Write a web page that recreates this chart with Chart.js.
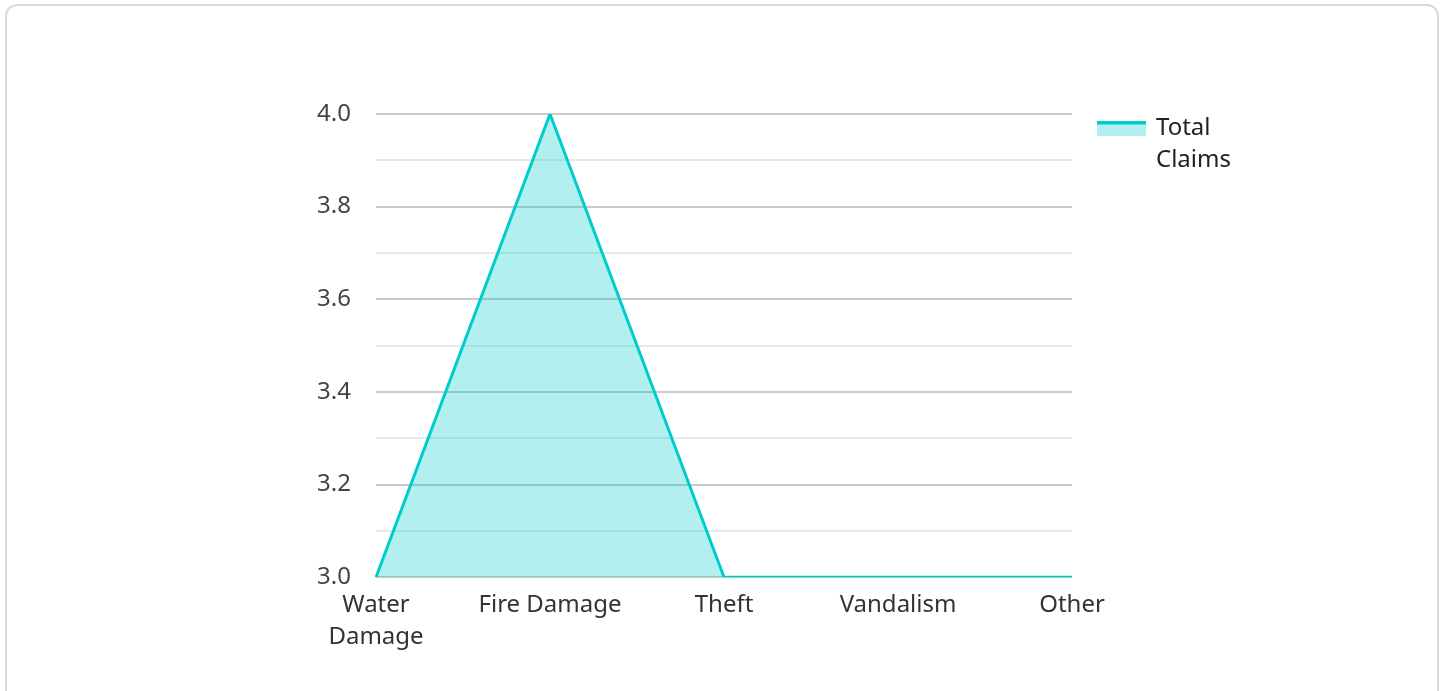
<!DOCTYPE html>
<html>
<head>
<meta charset="utf-8">
<script src="https://cdn.jsdelivr.net/npm/chart.js@4"></script>
<style>
  html, body { margin: 0; padding: 0; background: #ffffff; overflow: hidden; }
  #card { position: absolute; left: 5px; top: 4px; width: 1434px; height: 700px; border: 2px solid #d9d9d9; border-radius: 12px; box-sizing: border-box; background: #fff; }
  #wrap { position: absolute; left: 0; top: 0; width: 1445px; height: 691px; }
</style>
</head>
<body>
<div id="card"></div>
<div id="wrap"><canvas id="c" width="1445" height="691"></canvas></div>
<script>
const categories = ['Water Damage', 'Fire Damage', 'Theft', 'Vandalism', 'Other'];
const xTickLabels = [['Water', 'Damage'], 'Fire Damage', 'Theft', 'Vandalism', 'Other'];
const totalClaims = [3.0, 4.0, 3.0, 3.0, 3.0];
const seriesName = ['Total', 'Claims'];
const yMin = 3.0, yMax = 4.0, yStep = 0.1;

const lineColor = 'rgb(0,204,204)';
const fillColor = 'rgba(0,204,204,0.3)';

// legend swatch
const sw = document.createElement('canvas');
sw.width = 49; sw.height = 15;
(function(){
  const g = sw.getContext('2d');
  g.fillStyle = fillColor; g.fillRect(0, 0, 49, 15);
  g.fillStyle = lineColor; g.fillRect(0, 0, 49, 4);
})();

const FONT = "'Noto Sans', sans-serif";

const legendPlace = {
  id: 'legendPlace',
  afterLayout(chart) {
    const lg = chart.legend;
    if (!lg) return;
    const w = lg.width, h = lg.height;
    lg.left = 1088; lg.right = lg.left + w;
    lg.top = 106; lg.bottom = lg.top + h;
  }
};

new Chart(document.getElementById('c'), {
  type: 'line',
  data: {
    labels: categories,
    datasets: [{
      label: seriesName,
      data: totalClaims,
      borderColor: lineColor,
      backgroundColor: fillColor,
      borderWidth: 3,
      pointRadius: 0,
      pointHoverRadius: 0,
      fill: 'start',
      tension: 0
    }]
  },
  plugins: [legendPlace],
  options: {
    responsive: false,
    animation: false,
    layout: { padding: { left: 0, top: 114, right: 220, bottom: 26 } },
    plugins: {
      tooltip: { enabled: false },
      legend: {
        position: 'right',
        align: 'start',
        labels: {
          font: { family: FONT, size: 24, lineHeight: 1.33 },
          color: '#222',
          usePointStyle: true,
          pointStyleWidth: 46,
          generateLabels(chart) {
            const ds = chart.data.datasets[0];
            return [{ text: ds.label, pointStyle: sw, fillStyle: fillColor, strokeStyle: lineColor, lineWidth: 0, datasetIndex: 0, fontColor: '#222' }];
          }
        }
      }
    },
    scales: {
      x: {
        offset: false,
        border: { display: false },
        grid: { display: false, drawTicks: false },
        ticks: {
          font: { family: FONT, size: 24, lineHeight: 1.33 },
          color: '#333',
          maxRotation: 0,
          autoSkip: false,
          padding: 12,
          callback: (v, i) => xTickLabels[i]
        }
      },
      y: {
        min: yMin,
        max: yMax,
        border: { display: false },
        afterFit(scale) { scale.width = 376; },
        grid: {
          drawTicks: false,
          lineWidth: 2,
          color: (ctx) => {
            const k = Math.round(ctx.tick.value * 10);
            return k % 2 === 0 ? '#cbcbcb' : '#e9e9e9';
          }
        },
        ticks: {
          stepSize: yStep,
          font: { family: FONT, size: 24 },
          color: '#444',
          padding: 25,
          callback: (v) => (Math.round(v * 10) % 2 === 0 ? Number(v).toFixed(1) : '')
        }
      }
    }
  }
});
</script>
</body>
</html>
